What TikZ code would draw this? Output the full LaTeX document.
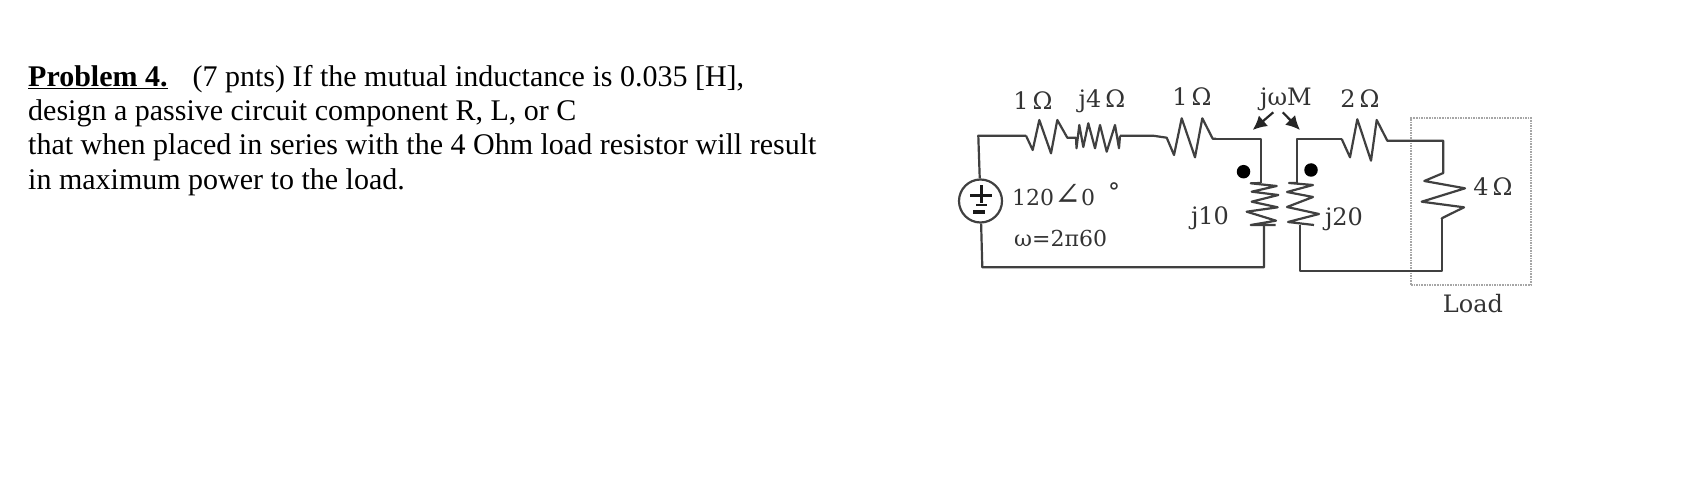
\documentclass[tikz,border=0pt]{standalone}
\usepackage{fontspec}
\setmainfont{Liberation Serif}
\newfontfamily\circfont{DejaVu Serif}
\usetikzlibrary{arrows.meta}
\tikzset{
  wire/.style={draw=black!75,line width=2.2pt,line join=round},
  para/.style={anchor=base west,inner sep=0pt,font=\fontsize{30}{34}\selectfont},
  lab/.style={anchor=center,inner sep=0pt,text=black!80,font=\circfont\fontsize{24}{26}\selectfont},
  mutual/.style={draw=black!85,line width=2.2pt,-{Latex[length=14pt,width=14pt]}},
  loadbox/.style={draw=black!35,line width=1.6pt,densely dotted},
  dotmark/.style={circle,fill=black,inner sep=0pt,minimum width=13.5pt},
  bar/.style={fill=black!90,inner sep=0pt}
}
\begin{document}
\begin{tikzpicture}[x=1pt,y=-1pt]
\useasboundingbox (0,0) rectangle (1690,500);
\fill[white] (0,0) rectangle (1690,500);
% text
\node[para] (t1) at (28,86.5) {\textbf{\underline{Problem 4.}}\hspace{25pt}(7 pnts) If the mutual inductance is 0.035 [H],};
\node[para] (t2) at (28,120.5) {design a passive circuit component R, L, or C};
\node[para] (t3) at (28,154.5) {that when placed in series with the 4 Ohm load resistor will result};
\node[para] (t4) at (28,189.5) {in maximum power to the load.};
% load box
\node[loadbox,minimum width=120pt,minimum height=167pt,inner sep=0pt] (load) at (1471,201.5) {};
% source
\node[circle,draw=black!75,line width=2.2pt,minimum width=43pt,inner sep=0pt] (src) at (980.5,201) {};
\node[bar,minimum width=22pt,minimum height=3pt] (ph) at (981,195) {};
\node[bar,minimum width=3pt,minimum height=18pt] (pv) at (981,194) {};
\node[bar,minimum width=11pt,minimum height=2.6pt] (pb) at (981,205) {};
\node[bar,minimum width=12pt,minimum height=3.4pt] (minus) at (979,212) {};
% corner coordinates
\coordinate (tl) at (978.3,135.7);
\coordinate (r1a) at (1026,135.7);
\coordinate (r2a) at (1120,135.7);
\coordinate (r2b) at (1216,138.7);
\coordinate (tm1) at (1260.7,138.7);
\coordinate (c1a) at (1260.7,183);
\coordinate (c1b) at (1264,225);
\coordinate (bm1) at (1264,267.3);
\coordinate (bl) at (982.3,267.3);
\coordinate (c2a) at (1296.7,183);
\coordinate (tm2) at (1296.7,139);
\coordinate (r3a) at (1341.7,139);
\coordinate (r3b) at (1388,140.7);
\coordinate (tr) at (1443.3,140.7);
\coordinate (r4a) at (1443.3,173);
\coordinate (r4b) at (1441.7,218);
\coordinate (br) at (1441.7,271);
\coordinate (bm2) at (1300,271);
\coordinate (c2b) at (1300,225);
% wires
\draw[wire] (src) -- (tl) -- (r1a);
\draw[wire] (r1a) -- (1032.7,150) -- (1039.3,120) -- (1051,153.3) -- (1057.3,120) -- (1067.3,137.7) -- (1076,137.7)
  -- (1076.5,148.3) -- (1079.3,125) -- (1083.3,147) -- (1088.3,123.3) -- (1095,148.3) -- (1100,125) -- (1106.7,151.7) -- (1115,125) -- (1119,148.3) -- (r2a);
\draw[wire] (r2a) -- (1153,135.7) -- (1166.7,137.7) -- (1174,155) -- (1181.7,118.3) -- (1195,157.3) -- (1202.3,118.3) -- (1212.7,138.7) -- (r2b);
\draw[wire] (r2b) -- (tm1) -- (c1a);
\draw[wire] (c1a) -- (1250.7,183.3) -- (1276.7,186) -- (1251.7,191.7) -- (1278.3,195) -- (1251.7,201.7) -- (1277.7,207.3) -- (1246.7,211.7) -- (1276,220.7) -- (1250.7,225) -- (1275.7,225);
\draw[wire] (c1b) -- (bm1) -- (bl) -- (src);
\draw[wire] (r3a) -- (tm2) -- (c2a);
\draw[wire] (c2a) -- (1289,183) -- (1313,185) -- (1287,192) -- (1313,197) -- (1287,207) -- (1319,214) -- (1288,222) -- (1314,225);
\draw[wire] (r3a) -- (1350,157.3) -- (1357.3,119.3) -- (1371,160.7) -- (1376.7,120) -- (1387.3,140.7) -- (r3b);
\draw[wire] (r3b) -- (tr) -- (r4a) -- (1424.3,181) -- (1465,188.3) -- (1421.7,201.7) -- (1464,207.3) -- (1441.7,218.3) -- (r4b);
\draw[wire] (r4b) -- (br) -- (bm2) -- (c2b);
% dots
\node[dotmark] (d1) at (1243.5,171.7) {};
\node[dotmark] (d2) at (1311,170) {};
% labels
\node[lab] (l1) at (1033,101) {1\,Ω};
\node[lab] (l2) at (1102,101) {j4\,Ω};
\node[lab] (l3) at (1192,97) {1\,Ω};
\node[lab] (l4) at (1286,99) {jωM};
\node[lab] (l5) at (1360,99) {2\,Ω};
\node[lab,anchor=west] (l6) at (1012,195) {\fontsize{22}{26}\selectfont 120{\fontsize{32}{26}\selectfont ∠}0};
\node[lab] (deg) at (1114,192) {°};
\node[lab,anchor=west,font=\circfont\fontsize{22}{26}\selectfont] (l7) at (1014,238) {ω=2π60};
\node[lab] (l8) at (1210,218) {j10};
\node[lab] (l9) at (1344,219) {j20};
\node[lab] (l10) at (1493,187) {4\,Ω};
\node[lab] (l11) at (1473,304) {Load};
% mutual arrows
\coordinate (m0) at (1273.3,112.3);
\coordinate (m1) at (1252.7,130);
\coordinate (m2) at (1282.7,112.3);
\coordinate (m3) at (1300,130);
\draw[mutual] (m0) -- (m1);
\draw[mutual] (m2) -- (m3);
\end{tikzpicture}
\end{document}
